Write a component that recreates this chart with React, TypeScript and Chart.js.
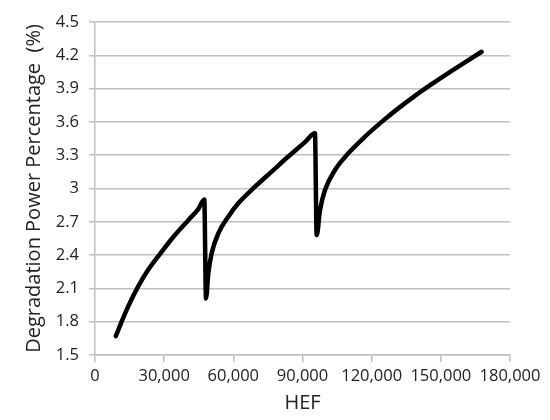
import React, { useEffect, useRef } from "react";
import { Chart, registerables } from "chart.js";

Chart.register(...registerables);

const hefValues = [
  9000, 11560, 14460, 18800, 23130, 27470, 33250, 40470, 44800, 47400, 48150,
  49150, 50600, 53500, 57800, 62150, 69400, 76630, 83840, 91080, 95400, 96150,
  97600, 99750, 104100, 109860, 117100, 124340, 131540, 138780, 146000, 153220,
  160470, 167700,
];
const degradationValues = [
  1.67, 1.8, 1.94, 2.12, 2.27, 2.39, 2.545, 2.715, 2.815, 2.9, 2.01, 2.236,
  2.416, 2.596, 2.746, 2.867, 3.016, 3.152, 3.288, 3.418, 3.497, 2.58, 2.806,
  2.986, 3.167, 3.317, 3.467, 3.6, 3.722, 3.835, 3.94, 4.04, 4.137, 4.232,
];
const xTitle = "HEF";
const yTitle = "Degradation Power Percentage  (%)";

const FONT = "'Open Sans', sans-serif";

export default function App() {
  const ref = useRef<HTMLCanvasElement>(null);
  useEffect(() => {
    document.body.style.margin = "0";
    const ctx = ref.current!;
    const chart = new Chart(ctx, {
      type: "line",
      data: {
        datasets: [
          {
            data: hefValues.map((x, i) => ({ x, y: degradationValues[i] })),
            borderColor: "#000",
            borderWidth: 4.5,
            pointRadius: 0,
            cubicInterpolationMode: "monotone",
            borderCapStyle: "round",
            borderJoinStyle: "round",
            fill: false,
          },
        ],
      },
      options: {
        animation: false,
        responsive: true,
        maintainAspectRatio: false,
        layout: { padding: { top: 22, right: 40, left: 0, bottom: 0 } },
        plugins: { legend: { display: false }, tooltip: { enabled: false } },
        scales: {
          x: {
            type: "linear",
            min: 0,
            max: 180000,
            ticks: {
              stepSize: 30000,
              color: "#222",
              font: { family: FONT, size: 16.5 },
              padding: 4,
              maxRotation: 0,
              callback: (v: any) => Number(v).toLocaleString("en-US"),
            },
            grid: {
              drawOnChartArea: false,
              drawTicks: true,
              tickLength: 7,
              color: "#bfbfbf",
              lineWidth: 1.5,
            },
            border: { color: "#bfbfbf", width: 1.5 },
            title: {
              display: true,
              text: xTitle,
              color: "#222",
              font: { family: FONT, size: 20 },
              padding: { top: 0, bottom: 5 },
            },
            afterFit: (s: any) => {
              s.height = 65;
            },
          },
          y: {
            min: 1.5,
            max: 4.5,
            ticks: {
              stepSize: 0.3,
              color: "#222",
              font: { family: FONT, size: 16.5 },
              padding: 10,
              callback: (v: any) => String(Number(Number(v).toFixed(1))),
            },
            grid: {
              drawTicks: true,
              tickLength: 6,
              color: "#bfbfbf",
              lineWidth: 1.5,
            },
            border: { color: "#bfbfbf", width: 1.5 },
            title: {
              display: true,
              text: yTitle,
              color: "#222",
              font: { family: FONT, size: 20 },
              padding: { top: 22, bottom: 0 },
            },
            afterFit: (s: any) => {
              s.width = 95;
            },
          },
        },
      },
    });
    return () => chart.destroy();
  }, []);
  return (
    <div style={{ width: 550, height: 420, position: "relative" }}>
      <canvas ref={ref} />
    </div>
  );
}
